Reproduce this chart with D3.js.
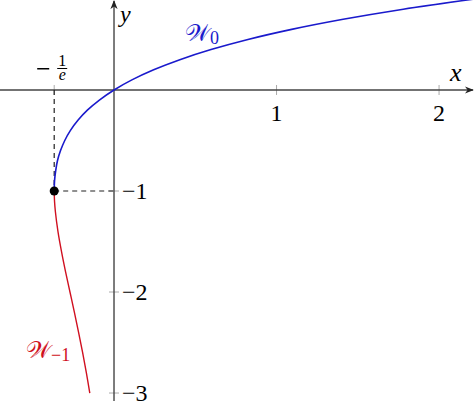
<!DOCTYPE html>
<html>
<head>
<meta charset="utf-8">
<script src="https://cdn.jsdelivr.net/npm/d3@7"></script>
<style>
  body { margin: 0; background: #fff; }
  svg text { font-family: "Liberation Serif", "Times New Roman", serif; }
</style>
</head>
<body>
<svg id="chart"></svg>
<script>
// points: principal branch W0 (x, y)
const w0X = [-0.368, -0.366, -0.359, -0.348, -0.329, -0.303, -0.268, -0.222, -0.164, -0.090, 0, 0.110, 0.244, 0.405, 0.597, 0.824, 1.093, 1.410, 1.780, 2.214];
const w0Y = [-1, -0.9, -0.8, -0.7, -0.6, -0.5, -0.4, -0.3, -0.2, -0.1, 0, 0.1, 0.2, 0.3, 0.4, 0.5, 0.6, 0.7, 0.8, 0.9];
// lower branch W-1
const wm1X = [-0.368, -0.366, -0.361, -0.345, -0.323, -0.298, -0.271, -0.244, -0.218, -0.193, -0.170, -0.149];
const wm1Y = [-1, -1.1, -1.2, -1.4, -1.6, -1.8, -2, -2.2, -2.4, -2.6, -2.8, -3];
const xTicks = [1, 2];
const yTicks = [-1, -2, -3];
const branchPoint = { x: -0.368, y: -1 };

const W = 474, H = 401;
const svg = d3.select("#chart").attr("width", W).attr("height", H);

const x = d3.scaleLinear().domain([-0.7015, 2.215]).range([0, W]);
const y = d3.scaleLinear().domain([0.891, -3.079]).range([0, H]);

const axisColor = "#444";
const defs = svg.append("defs");
defs.append("marker").attr("id", "arrow").attr("viewBox", "0 0 10 10")
  .attr("refX", 9).attr("refY", 5).attr("markerWidth", 9).attr("markerHeight", 9)
  .attr("markerUnits", "userSpaceOnUse").attr("orient", "auto")
  .append("path").attr("d", "M0,1 L10,5 L0,9 L3,5 Z").attr("fill", "#222");

// ticks
svg.selectAll(".xtick").data(xTicks.concat([branchPoint.x])).enter().append("line")
  .attr("x1", d => x(d)).attr("x2", d => x(d))
  .attr("y1", y(0) - 5).attr("y2", y(0) + 5)
  .attr("stroke", "#aaa").attr("stroke-width", 1);
svg.selectAll(".ytick").data(yTicks).enter().append("line")
  .attr("x1", x(0) - 5).attr("x2", x(0) + 5)
  .attr("y1", d => y(d)).attr("y2", d => y(d))
  .attr("stroke", "#aaa").attr("stroke-width", 1);

// axes
svg.append("line").attr("x1", 0).attr("x2", W - 1).attr("y1", y(0)).attr("y2", y(0))
  .attr("stroke", axisColor).attr("stroke-width", 1.4).attr("marker-end", "url(#arrow)");
svg.append("line").attr("x1", x(0)).attr("x2", x(0)).attr("y1", H).attr("y2", 1)
  .attr("stroke", axisColor).attr("stroke-width", 1.4).attr("marker-end", "url(#arrow)");

// dashed guides
svg.append("line").attr("x1", x(branchPoint.x)).attr("x2", x(branchPoint.x))
  .attr("y1", y(0)).attr("y2", y(branchPoint.y))
  .attr("stroke", "#222").attr("stroke-width", 1.2).attr("stroke-dasharray", "5,4");
svg.append("line").attr("x1", x(branchPoint.x)).attr("x2", x(0))
  .attr("y1", y(branchPoint.y)).attr("y2", y(branchPoint.y))
  .attr("stroke", "#222").attr("stroke-width", 1.2).attr("stroke-dasharray", "5,4");

// curves
const line = d3.line().x(d => x(d[0])).y(d => y(d[1])).curve(d3.curveCatmullRom);
svg.append("path").datum(w0X.map((v, i) => [v, w0Y[i]]))
  .attr("fill", "none").attr("stroke", "#1a1acc").attr("stroke-width", 1.6).attr("d", line);
svg.append("path").datum(wm1X.map((v, i) => [v, wm1Y[i]]))
  .attr("fill", "none").attr("stroke", "#d01020").attr("stroke-width", 1.4).attr("d", line);

svg.append("circle").attr("cx", x(branchPoint.x)).attr("cy", y(branchPoint.y)).attr("r", 4.5).attr("fill", "#000");

// tick labels
svg.selectAll(".xl").data(xTicks).enter().append("text")
  .attr("x", d => x(d)).attr("y", y(0) + 31).attr("text-anchor", "middle")
  .style("font-size", "24px").text(d => d);
svg.selectAll(".yl").data(yTicks).enter().append("text")
  .attr("x", x(0) + 8).attr("y", d => y(d) + 8)
  .style("font-size", "24px").text(d => "\u2212" + Math.abs(d));

// -1/e label
const fx = x(branchPoint.x) + 8;
svg.append("rect").attr("x", fx - 25).attr("y", 68).attr("width", 12).attr("height", 1.5).attr("fill", "#000");
svg.append("text").attr("x", fx).attr("y", 66).attr("text-anchor", "middle").style("font-size", "16px").text("1");
svg.append("rect").attr("x", fx - 5).attr("y", 68).attr("width", 10).attr("height", 1).attr("fill", "#000");
svg.append("text").attr("x", fx).attr("y", 80).attr("text-anchor", "middle").style("font-size", "16px").style("font-style", "italic").text("e");

// axis names
svg.append("text").attr("x", 120).attr("y", 22).style("font-size", "24px").style("font-style", "italic").text("y");
svg.append("text").attr("x", 450).attr("y", 81).style("font-size", "26px").style("font-style", "italic").text("x");

// branch labels
const l0 = svg.append("text").attr("x", 185).attr("y", 41).attr("fill", "#1a1acc").style("font-size", "24px");
l0.append("tspan").style("font-family", "'DejaVu Serif', serif").text("\uD835\uDCB2");
l0.append("tspan").attr("dy", 3).style("font-size", "18px").text("0");
const l1 = svg.append("text").attr("x", 26).attr("y", 358).attr("fill", "#d01020").style("font-size", "24px");
l1.append("tspan").style("font-family", "'DejaVu Serif', serif").text("\uD835\uDCB2");
l1.append("tspan").attr("dy", 3).style("font-size", "18px").text("\u22121");
</script>
</body>
</html>
